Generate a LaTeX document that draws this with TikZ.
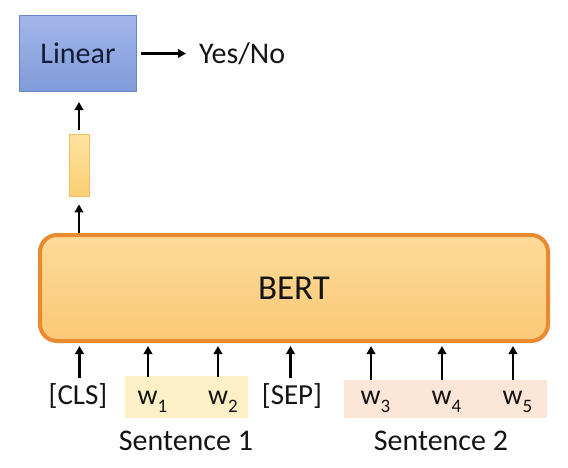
\documentclass[tikz,border=0pt]{standalone}
\usepackage{fontspec}
\setmainfont{Carlito}
\usetikzlibrary{arrows.meta}
\definecolor{linfillT}{HTML}{A3B6EA}
\definecolor{linfillB}{HTML}{809BD9}
\definecolor{lindraw}{HTML}{6A87C9}
\definecolor{bertT}{HTML}{FDDB98}
\definecolor{bertB}{HTML}{FBC877}
\definecolor{bertdraw}{HTML}{E98A2F}
\definecolor{vecT}{HTML}{FDE3A0}
\definecolor{vecB}{HTML}{FBCF74}
\definecolor{vecdraw}{HTML}{F2BE5E}
\definecolor{sonefill}{HTML}{FDF0C7}
\definecolor{stwofill}{HTML}{FBE6D7}
\definecolor{txt}{HTML}{141414}
\definecolor{navy}{HTML}{131C36}
\tikzset{
  arr/.style={line width=2.5pt, -{Triangle[length=8pt,width=8.5pt]}, black},
  lbl/.style={inner sep=0pt, anchor=base, text=txt, font=\fontsize{29}{29}\selectfont},
  wlbl/.style={inner sep=0pt, anchor=base west, text=txt, font=\fontsize{28}{28}\selectfont},
  sent/.style={inner sep=0pt, anchor=base, text=txt, font=\fontsize{30}{30}\selectfont},
}
\newcommand{\wsub}[1]{w\raisebox{-0.32em}{\fontsize{19}{19}\selectfont #1}}
\begin{document}
\begin{tikzpicture}[x=1pt,y=-1pt]
\useasboundingbox (0,0) rectangle (568,467);
% background boxes
\node[fill=sonefill, inner sep=0pt, minimum width=123pt, minimum height=42pt] (sone) at (186.5,397) {};
\node[fill=stwofill, inner sep=0pt, minimum width=203pt, minimum height=38pt] (stwo) at (445.5,399) {};
% Linear
\node[draw=lindraw, line width=1pt, top color=linfillT, bottom color=linfillB,
      minimum width=117pt, minimum height=76pt, inner sep=0pt, text=navy,
      font=\fontsize{30}{30}\selectfont] (linear) at (78,53.5) {Linear};
\node[inner sep=0pt, anchor=west, text=txt, font=\fontsize{30}{30}\selectfont] (yesno) at (199,53.5) {Yes/No};
% small vector
\node[draw=vecdraw, line width=0.8pt, top color=vecT, bottom color=vecB,
      minimum width=20pt, minimum height=62pt, inner sep=0pt] (vec) at (79,165) {};
% BERT
\node[draw=bertdraw, line width=4pt, rounded corners=17pt, top color=bertT, bottom color=bertB,
      minimum width=508pt, minimum height=106pt, inner sep=0pt,
      font=\fontsize{35}{35}\selectfont, text=txt] (bert) at (294,288) {BERT};
% tokens
\node[lbl] (cls) at (78,404) {[CLS]};
\node[wlbl] (w1) at (137.5,404) {\wsub{1}};
\node[wlbl] (w2) at (208,404) {\wsub{2}};
\node[lbl] (sep) at (292,404) {[SEP]};
\node[wlbl] (w3) at (360.5,404) {\wsub{3}};
\node[wlbl] (w4) at (431.5,404) {\wsub{4}};
\node[wlbl] (w5) at (502.5,404) {\wsub{5}};
\node[sent] (s1) at (186,450) {Sentence 1};
\node[sent] (s2) at (441,450) {Sentence 2};
% arrow tails
\coordinate (a0) at (79.5,378);
\coordinate (a1) at (148,377);
\coordinate (a2) at (218,377);
\coordinate (a3) at (290.5,378);
\coordinate (a4) at (371,380);
\coordinate (a5) at (442,380);
\coordinate (a6) at (513,380);
\foreach \i in {0,...,6}{
  \draw[arr, shorten >=3pt] (a\i) -- (a\i |- bert.south);
}
% upper arrows
\draw[arr, shorten >=8pt] (vec.south |- bert.north) -- (vec.south);
\draw[arr, shorten <=4pt, shorten >=10pt] (vec.north) -- (vec.north |- linear.south);
\draw[arr, shorten <=4pt, shorten >=13pt] (linear.east) -- (yesno.west);
\end{tikzpicture}
\end{document}
